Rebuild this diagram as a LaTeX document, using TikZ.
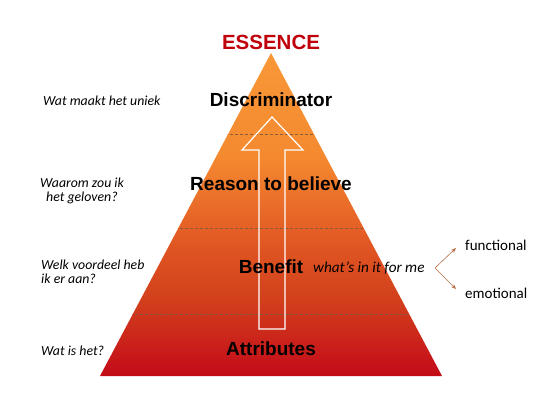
\documentclass[tikz,border=0pt]{standalone}
\usepackage{fontspec}
\setmainfont{Liberation Sans}
\newfontfamily\calib{Carlito}
\usetikzlibrary{arrows.meta}
\definecolor{esred}{HTML}{C0000A}
\definecolor{dashc}{HTML}{8A5A3A}
\definecolor{arrc}{HTML}{B5704A}
\definecolor{pA}{HTML}{C20A14}
\definecolor{pB}{HTML}{C5101A}
\definecolor{pC}{HTML}{D2401C}
\definecolor{pD}{HTML}{DF5422}
\definecolor{pE}{HTML}{E96A28}
\definecolor{pF}{HTML}{F48A30}
\definecolor{pG}{HTML}{F89636}
\definecolor{pH}{HTML}{F99838}
\pgfdeclareverticalshading{pyr}{100bp}{%
  color(0bp)=(pA); color(25bp)=(pA);
  color(26.2bp)=(pB); color(36.8bp)=(pC);
  color(44.5bp)=(pD); color(50.7bp)=(pE);
  color(59.2bp)=(pF); color(73.1bp)=(pG);
  color(75bp)=(pH); color(100bp)=(pH)}
\tikzset{
  lvl/.style={font=\fontsize{19}{21}\selectfont\bfseries, inner sep=0pt},
  q/.style={font=\calib\itshape\fontsize{13.8}{16}\selectfont, align=left, anchor=west, inner sep=0pt},
  sep/.style={draw=dashc, dash pattern=on 3pt off 2pt, line width=0.6pt},
  side/.style={font=\calib\fontsize{15}{17}\selectfont, anchor=west, inner sep=0pt},
  conn/.style={draw=arrc, line width=0.6pt, -{Stealth[length=5pt,width=4pt]}}
}
\begin{document}
\begin{tikzpicture}[x=1pt,y=-1pt]
\useasboundingbox (0,0) rectangle (554,407);
% pyramid
\coordinate (apex) at (271,53);
\coordinate (bl) at (100,376);
\coordinate (br) at (442,376);
\begin{scope}
\clip (apex) -- (br) -- (bl) -- cycle;
\shade[shading=pyr] (100,53) rectangle (442,376);
% dashed separators
\foreach \yy in {134,228,314} {
  \draw[sep] (100,\yy) -- (442,\yy);
}
\end{scope}
% arrow outline
\draw[white, line width=1.2pt] (259,329) -- (259,150) -- (242,150) -- (272,117) -- (303,150) -- (285,150) -- (285,329) -- cycle;
% titles
\node[font=\fontsize{20.5}{22}\selectfont\bfseries, text=esred, inner sep=0pt] (ess) at (271,42) {ESSENCE};
\node[lvl] (disc) at (271,100) {Discriminator};
\node[lvl] (rtb) at (271,184) {Reason to believe};
\node[lvl] (ben) at (271,267) {Benefit};
\node[font=\calib\itshape\fontsize{15.2}{17}\selectfont, anchor=west, inner sep=0pt] (wit) at (313,268) {what’s in it for me};
\node[lvl] (attr) at (271,349) {Attributes};
% left questions
\node[q] (q1) at (43,101) {Wat maakt het uniek};
\node[q] (q2) at (40,191) {Waarom zou ik\\[-1.5pt]\hspace*{6pt}het geloven?};
\node[q] (q3) at (41,272) {Welk voordeel heb\\[-1.5pt]ik er aan?};
\node[q] (q4) at (41,351) {Wat is het?};
% right side
\node[side] (fun) at (465,245) {functional};
\node[side] (emo) at (465,293) {emotional};
\coordinate (fork) at (435,268);
\draw[conn] (fork) -- (456,248);
\draw[conn] (fork) -- (456,289);
\end{tikzpicture}
\end{document}
